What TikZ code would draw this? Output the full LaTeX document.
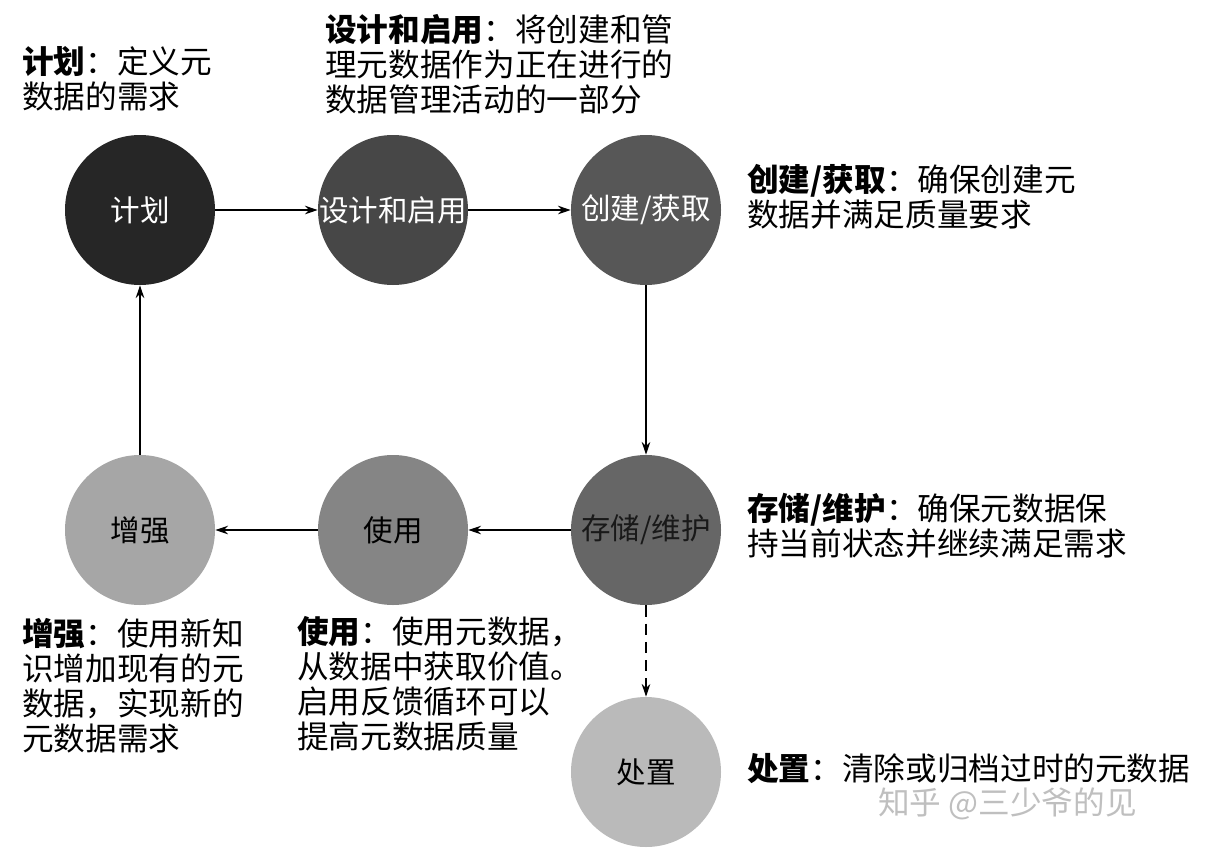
\documentclass[tikz,border=0pt]{standalone}
\usepackage{fontspec}
\setmainfont{Noto Sans CJK SC}
\usetikzlibrary{arrows.meta}
\begin{document}
\begin{tikzpicture}[x=0.025cm,y=-0.025cm,
  stage/.style={circle,minimum size=150*0.025cm,inner sep=0,font=\fontsize{21}{24}\selectfont},
  lbl/.style={anchor=north west,align=left,inner sep=0,font=\fontsize{22.5}{24.8}\selectfont},
  arr/.style={-{Stealth[length=9pt,width=6pt]},line width=0.8pt}]
\useasboundingbox (0,0) rectangle (1205,856);
\fill[white] (0,0) rectangle (1205,856);
\node[stage,fill=black!85,text=white] (plan) at (140,210) {计划};
\node[stage,fill=black!72,text=white] (design) at (393,210) {设计和启用};
\node[stage,fill=black!66,text=white] (create) at (646,210) {创建/获取};
\node[stage,fill=black!60,text=black!90] (store) at (646,530) {存储/维护};
\node[stage,fill=black!48,text=black] (use) at (393,530) {使用};
\node[stage,fill=black!35,text=black] (enh) at (140,530) {增强};
\node[stage,fill=black!27,text=black] (disp) at (646,772) {处置};
\draw[arr] (plan) -- (design);
\draw[arr] (design) -- (create);
\draw[arr] (create) -- (store);
\draw[arr] (store) -- (use);
\draw[arr] (use) -- (enh);
\draw[arr] (enh) -- (plan);
\draw[arr,dash pattern=on 8pt off 5pt] (store) -- (disp);
\node[lbl] (t1) at (22,46) {\textbf{计划}：定义元\\数据的需求};
\node[lbl] (t2) at (325,14) {\textbf{设计和启用}：将创建和管\\理元数据作为正在进行的\\数据管理活动的一部分};
\node[lbl] (t3) at (747,164) {\textbf{创建/获取}：确保创建元\\数据并满足质量要求};
\node[lbl] (t4) at (747,493) {\textbf{存储/维护}：确保元数据保\\持当前状态并继续满足需求};
\node[lbl] (t5) at (22,618) {\textbf{增强}：使用新知\\识增加现有的元\\数据，实现新的\\元数据需求};
\node[lbl] (t6) at (297,616) {\textbf{使用}：使用元数据，\\从数据中获取价值。\\启用反馈循环可以\\提高元数据质量};
\node[lbl] (t7) at (747,753) {\textbf{处置}：清除或归档过时的元数据};
\node[lbl,text=black!25] (wm) at (878,788) {知乎 @三少爷的见};
\end{tikzpicture}
\end{document}
